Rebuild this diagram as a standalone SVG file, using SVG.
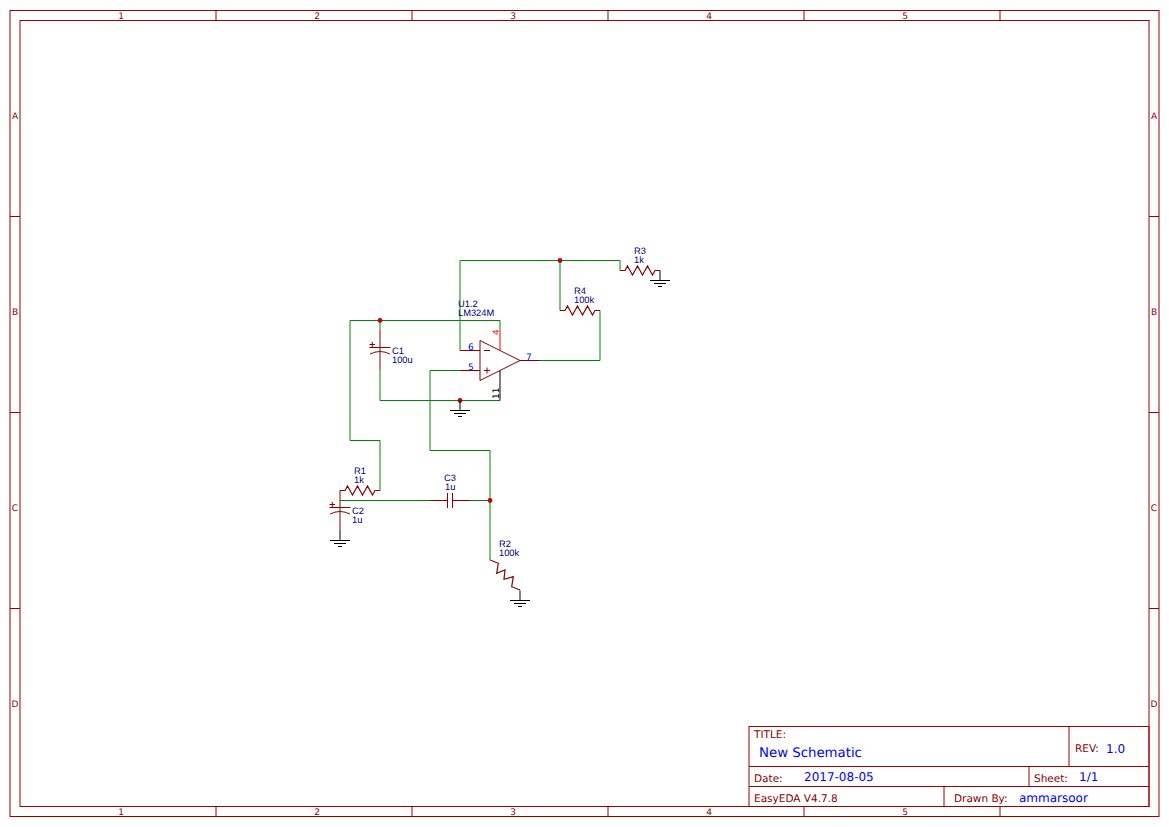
<svg xmlns="http://www.w3.org/2000/svg" width="1169" height="827" viewBox="0 0 1169 827">
<style>
.f{fill:none;stroke:#990000;stroke-width:1}
.w{fill:none;stroke:#008800;stroke-width:1}
.p{fill:none;stroke:#880000;stroke-width:1}
.z{fill:none;stroke:#880000;stroke-width:1.2}
.r{fill:none;stroke:#ff0000;stroke-width:1}
.k{fill:none;stroke:#000000;stroke-width:1}
.d{fill:#cc0000}
text{font-family:"DejaVu Sans",sans-serif;text-rendering:geometricPrecision}
.fl{font-size:9px;fill:#880000;text-anchor:middle}
.tl{font-size:10.5px;fill:#880000}
.tv{fill:#0000ff;font-size:12px}
.n{font-family:"Liberation Sans",Arial,sans-serif;font-size:9.3px;fill:#000080}
.pn{font-size:9px;fill:#0000ff}
</style>
<defs>
<path id="res" d="M0 0H5L7.5-4.500L12.500 4.500L17.500-4.500L22.500 4.500L27.500-4.500L32.500 4.500L35 0H40"/>
<path id="gnd" d="M0 0V10M-10 10H10M-6 13H6M-2 16H2"/>
</defs>
<g id="frame">
<rect class="f" x="10" y="10.500" width="1149" height="806"/>
<rect class="f" x="20" y="20.500" width="1129" height="786"/>
<path class="f" d="M216 10.500V20.500M412 10.500V20.500M608 10.500V20.500M804 10.500V20.500M1000 10.500V20.500M216 806.500V816.500M412 806.500V816.500M608 806.500V816.500M804 806.500V816.500M1000 806.500V816.500M10 216.500H20M10 412.500H20M10 608.500H20M1149 216.500H1159M1149 412.500H1159M1149 608.500H1159"/>
<text class="fl" x="121" y="19">1</text><text class="fl" x="317" y="19">2</text><text class="fl" x="513" y="19">3</text><text class="fl" x="709" y="19">4</text><text class="fl" x="905" y="19">5</text>
<text class="fl" x="121" y="815">1</text><text class="fl" x="317" y="815">2</text><text class="fl" x="513" y="815">3</text><text class="fl" x="709" y="815">4</text><text class="fl" x="905" y="815">5</text>
<text class="fl" x="15" y="119">A</text><text class="fl" x="15" y="315">B</text><text class="fl" x="15" y="511">C</text><text class="fl" x="15" y="707">D</text>
<text class="fl" x="1154" y="119">A</text><text class="fl" x="1154" y="315">B</text><text class="fl" x="1154" y="511">C</text><text class="fl" x="1154" y="707">D</text>
</g>
<g id="title-block">
<rect class="f" x="749" y="726.500" width="400" height="80"/>
<path class="f" d="M749 766.500H1149M749 786.500H1149M1069 726.500V766.500M1029 766.500V786.500M944 786.500V806.500"/>
<text class="tl" x="754" y="738">TITLE:</text>
<text class="tv" x="759" y="757" style="font-size:13.300px">New Schematic</text>
<text class="tl" x="1075" y="752">REV:</text>
<text class="tv" x="1106" y="753">1.0</text>
<text class="tl" x="754" y="782">Date:</text>
<text class="tv" x="804" y="781">2017-08-05</text>
<text class="tl" x="1034" y="782">Sheet:</text>
<text class="tv" x="1079" y="781">1/1</text>
<text class="tl" x="754" y="802">EasyEDA V4.7.8</text>
<text class="tl" x="954" y="802">Drawn By:</text>
<text class="tv" x="1019" y="802">ammarsoor</text>
</g>
<g id="connectors">
<path class="w" d="M620 270.500V260.500H460V350.500"/>
<path class="w" d="M560 260.500V310.500"/>
<path class="w" d="M600 310.500V360.500H540"/>
<path class="w" d="M500 330V320.500H350V440.500H380V490.500"/>
<path class="w" d="M380 320.500V330"/>
<path class="w" d="M380 370V400.500H500"/>
<path class="w" d="M460 370.500H430V450.500H490V560"/>
<path class="w" d="M340 500.500H430"/>
<path class="w" d="M470 500.500H490"/>
<circle class="d" cx="560" cy="260.500" r="2.400"/>
<circle class="d" cx="380" cy="320.500" r="2.400"/>
<circle class="d" cx="460" cy="400.500" r="2.400"/>
<circle class="d" cx="490" cy="500.500" r="2.400"/>
</g>
<g id="U1.2">
<path class="p" d="M480 340.500L520 360.500L480 380.500Z"/>
<path class="p" d="M460 350.500H480M460 370.500H480M520 360.500H540"/>
<path class="r" d="M500 330V350.500"/>
<path class="k" d="M500 370.500V400.500"/>
<path class="p" d="M484 350.500H490M484 370.500H490M487 367.500V373.500"/>
<text class="n" x="458" y="307">U1.2</text>
<text class="n" x="458" y="315.500">LM324M</text>
<text class="pn" x="468" y="350">6</text>
<text class="pn" x="468" y="370">5</text>
<text class="pn" x="526" y="360">7</text>
<text font-size="9" fill="#ff0000" transform="translate(499 335) rotate(-90)">4</text>
<text font-size="9" fill="#000000" transform="translate(499 399) rotate(-90)">11</text>
</g>
<g id="C1">
<path class="p" d="M380 330V370M369.500 347.500H390.500M370 354Q380 349 390 354M369.500 344.500H375M372.250 342V347"/>
<text class="n" x="392" y="354">C1</text><text class="n" x="392" y="363">100u</text>
</g>
<g id="C2">
<path class="p" d="M340 500.500V530M329.500 507.500H350.500M330 514Q340 509 350 514M329.500 504.500H335M332.250 502V507"/>
<text class="n" x="352" y="514">C2</text><text class="n" x="352" y="523">1u</text>
</g>
<g id="C3">
<path class="p" d="M430 500.500H447.500M452.500 500.500H470M447.500 493V508M452.500 493V508"/>
<text class="n" x="444" y="481">C3</text><text class="n" x="445" y="490">1u</text>
</g>
<g id="R1">
<use class="z" href="#res" transform="translate(340 490.500)"/>
<path class="p" d="M340 490.500V500.500"/>
<text class="n" x="354" y="474">R1</text><text class="n" x="354" y="483">1k</text>
</g>
<g id="R2">
<path class="z" d="M490 560L498.300 563.300L496.700 573.300L505 570L504 579.300L513.300 576.700L511.700 586.700L520 590"/>
<text class="n" x="499" y="547">R2</text><text class="n" x="499" y="556">100k</text>
</g>
<g id="R3">
<use class="z" href="#res" transform="translate(620 270.500)"/>
<text class="n" x="634" y="254">R3</text><text class="n" x="634" y="263">1k</text>
</g>
<g id="R4">
<use class="z" href="#res" transform="translate(560 310.500)"/>
<text class="n" x="574" y="294">R4</text><text class="n" x="574" y="303">100k</text>
</g>
<g id="GND1"><use class="k" href="#gnd" transform="translate(660 270.500)"/></g>
<g id="GND2"><use class="k" href="#gnd" transform="translate(460 400.500)"/></g>
<g id="GND3"><path class="k" d="M340 530V540.500M330 540.500H350M334 543.500H346M338 546.500H342"/></g>
<g id="GND4"><use class="k" href="#gnd" transform="translate(520 590.500)"/></g>
</svg>
